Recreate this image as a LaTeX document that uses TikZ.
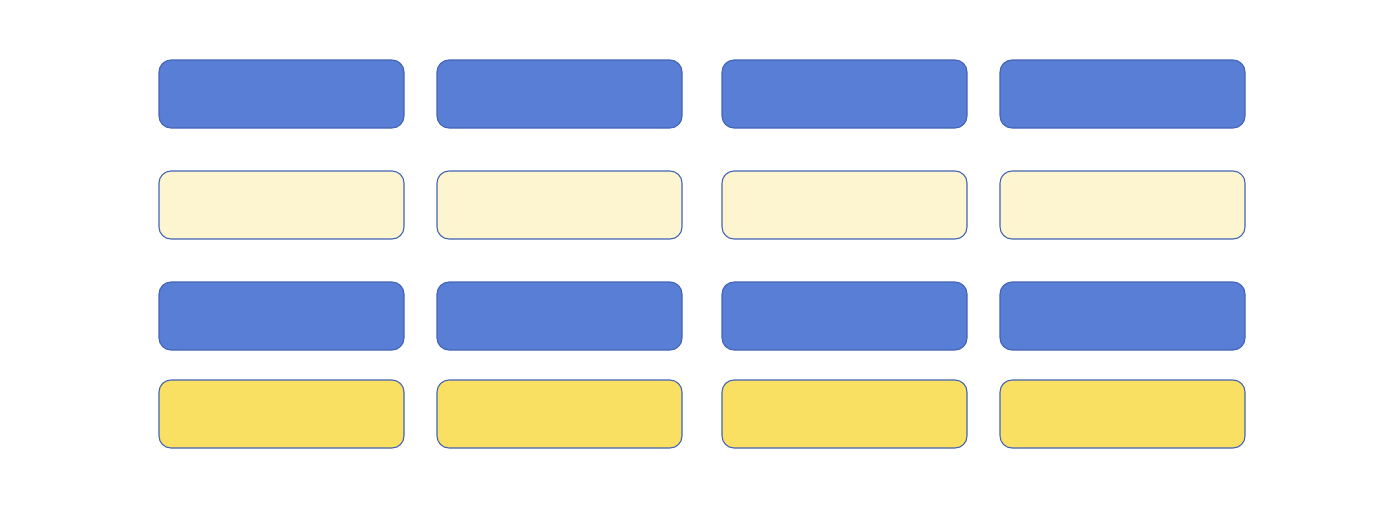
\documentclass[tikz,border=0pt]{standalone}
\begin{document}
\begin{tikzpicture}[x=1pt,y=-1pt,
  boxbase/.style={rectangle, rounded corners=12pt, minimum width=245pt, minimum height=68pt, inner sep=0pt, draw=bordercol, line width=1.1pt},
  bluebox/.style={boxbase, fill=bluefill},
  paleybox/.style={boxbase, fill=palefill},
  yelbox/.style={boxbase, fill=yelfill}]
\definecolor{bluefill}{HTML}{587ED6}
\definecolor{palefill}{HTML}{FDF4D0}
\definecolor{yelfill}{HTML}{FAE062}
\definecolor{bordercol}{HTML}{4465B5}
\useasboundingbox (0,0) rectangle (1378,512);
\foreach \cx [count=\i] in {281.5,559.5,844.5,1122.5} {
  \node[bluebox]  (a\i) at (\cx,94) {};
  \node[paleybox] (b\i) at (\cx,205) {};
  \node[bluebox]  (c\i) at (\cx,316) {};
  \node[yelbox]   (d\i) at (\cx,414) {};
}
\end{tikzpicture}
\end{document}
